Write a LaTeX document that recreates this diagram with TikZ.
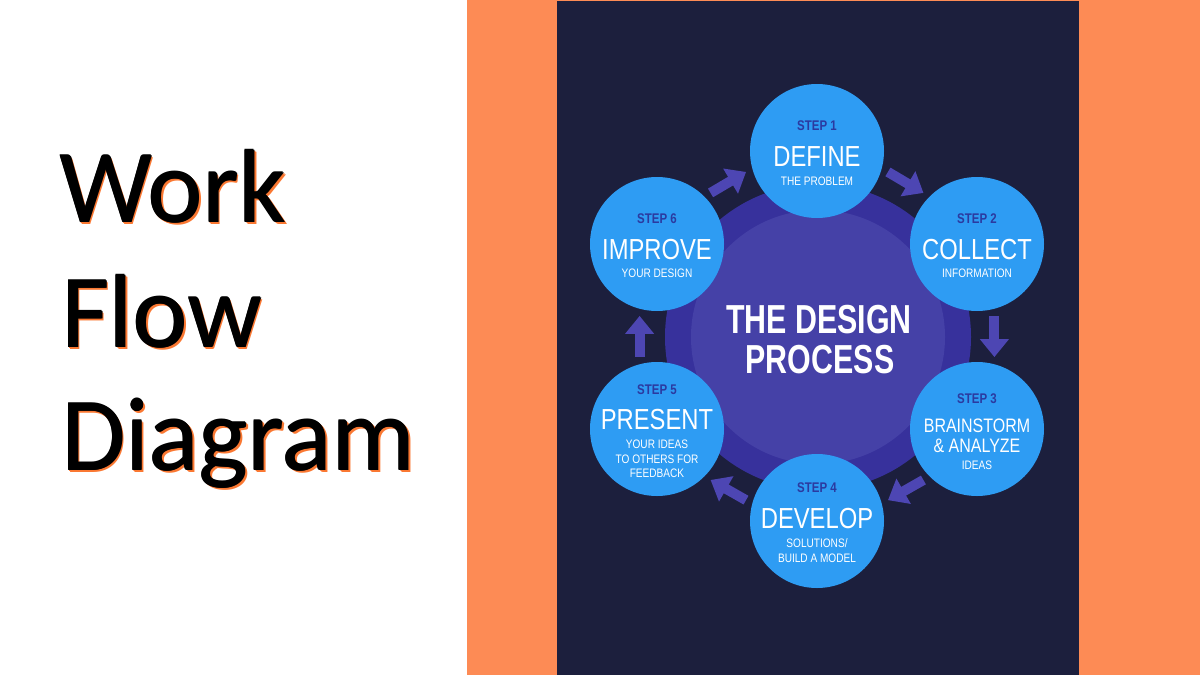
\documentclass[tikz,border=0pt]{standalone}
\usepackage{fontspec}
\newfontfamily\condfont[FakeStretch=0.82]{Liberation Sans}
\newfontfamily\bigfont[FakeStretch=0.75]{Liberation Sans}
\newfontfamily\wfont{Carlito}
\definecolor{navy}{HTML}{1C1F3D}
\definecolor{peach}{HTML}{FD8B55}
\definecolor{ring}{HTML}{37319C}
\definecolor{core}{HTML}{4541A7}
\definecolor{sky}{HTML}{2E9CF3}
\definecolor{ink}{HTML}{2B3AA0}
\definecolor{arr}{HTML}{4D46B3}
\definecolor{glow}{HTML}{FA7832}
\usetikzlibrary{arrows.meta}
% word with orange shadow, thickened a little
\newcommand\glowword[1]{%
  \rlap{\kern2.6pt\raisebox{-2.6pt}{\color{glow}#1}}%
  \rlap{\kern1.4pt\raisebox{-1.4pt}{\color{glow}#1}}%
  \rlap{\kern0.8pt#1}\rlap{\raisebox{0.7pt}{#1}}#1}

\begin{document}
\begin{tikzpicture}[x=1pt, y=-1pt,
      stepcircle/.style={circle, fill=sky, minimum size=134pt, inner sep=0pt},
      stepno/.style={font=\condfont\bfseries\fontsize{14}{14}\selectfont, text=ink,
                     text height=10pt, text depth=0pt, inner sep=0pt},
      steptitle/.style={font=\condfont\fontsize{29}{29}\selectfont, text=white,
                     text height=21pt, text depth=0pt, inner sep=0pt},
      stepmid/.style={font=\condfont\fontsize{19.5}{19.5}\selectfont, text=white,
                     text height=14pt, text depth=0pt, inner sep=0pt},
      stepsub/.style={font=\condfont\fontsize{12.3}{12.3}\selectfont, text=white,
                     text height=8.8pt, text depth=0pt, inner sep=0pt},
      bigtext/.style={font=\bigfont\bfseries\fontsize{40.5}{40.5}\selectfont, text=white,
                     text height=29pt, text depth=0pt, inner sep=0pt},
      word/.style={font=\wfont\fontsize{104}{104}\selectfont, text=black,
                     anchor=base west, inner sep=0pt},
      flow/.style={draw=arr, line width=10pt, -{Triangle[length=18pt,width=28pt]},
                     shorten <=7pt, shorten >=7pt}]

        \useasboundingbox (0,0) rectangle (1200,675);
        \fill[white] (0,0) rectangle (467,675);
        \fill[peach] (467,0) rectangle (1200,675);
        \fill[navy] (557,1) rectangle (1079,675);

        % title
        \node[word] (w1) at (59,222) {\glowword{Work}};
        \node[word] (w2) at (61,347) {\glowword{Flow}};
        \node[word] (w3) at (61,470) {\glowword{Diagram}};

        % centre
        \fill[ring] (818,337) circle (153pt);
        \fill[core] (818,337) circle (127pt);
        \node[bigtext] (the) at (819,318.5) {THE DESIGN};
        \node[bigtext] (proc) at (820,359) {PROCESS};

        \node[stepcircle] (s1) at (817,151) {};
        \node[stepcircle] (s2) at (977,244) {};
        \node[stepcircle] (s3) at (977,429) {};
        \node[stepcircle] (s4) at (817,521) {};
        \node[stepcircle] (s5) at (657,429) {};
        \node[stepcircle] (s6) at (657,244) {};

        % 1
        \node[stepno] (n1) at (817,125) {STEP 1};
        \node[steptitle] (t1) at (817,156) {DEFINE};
        \node[stepsub] (d1) at (817,181) {THE PROBLEM};
        % 2
        \node[stepno] (n2) at (977,218) {STEP 2};
        \node[steptitle] (t2) at (977,249) {COLLECT};
        \node[stepsub] (d2) at (977,273) {INFORMATION};
        % 3
        \node[stepno] (n3) at (977,398) {STEP 3};
        \node[stepmid] (t3) at (977,425) {BRAINSTORM};
        \node[stepmid] (t3b) at (977,445) {\& ANALYZE};
        \node[stepsub] (d3) at (977,465) {IDEAS};
        % 4
        \node[stepno] (n4) at (817,487) {STEP 4};
        \node[steptitle] (t4) at (817,518) {DEVELOP};
        \node[stepsub] (d4) at (817,543) {SOLUTIONS/};
        \node[stepsub] (d4b) at (817,558) {BUILD A MODEL};
        % 5
        \node[stepno] (n5) at (657,389) {STEP 5};
        \node[steptitle] (t5) at (657,419) {PRESENT};
        \node[stepsub] (d5) at (657,444) {YOUR IDEAS};
        \node[stepsub] (d5b) at (657,459) {TO OTHERS FOR};
        \node[stepsub] (d5c) at (657,473) {FEEDBACK};
        % 6
        \node[stepno] (n6) at (657,218) {STEP 6};
        \node[steptitle] (t6) at (657,249) {IMPROVE};
        \node[stepsub] (d6) at (657,273) {YOUR DESIGN};

        \foreach \a/\b/\d in {1/2/-30, 2/3/-90, 3/4/-150, 4/5/150, 5/6/90, 6/1/30}{
          \pgfmathtruncatemacro\p{\d+15}
          \pgfmathtruncatemacro\q{\d+165}
          \draw[flow] (s\a.\p) -- (s\b.\q);
        }

      \end{tikzpicture}
\end{document}
